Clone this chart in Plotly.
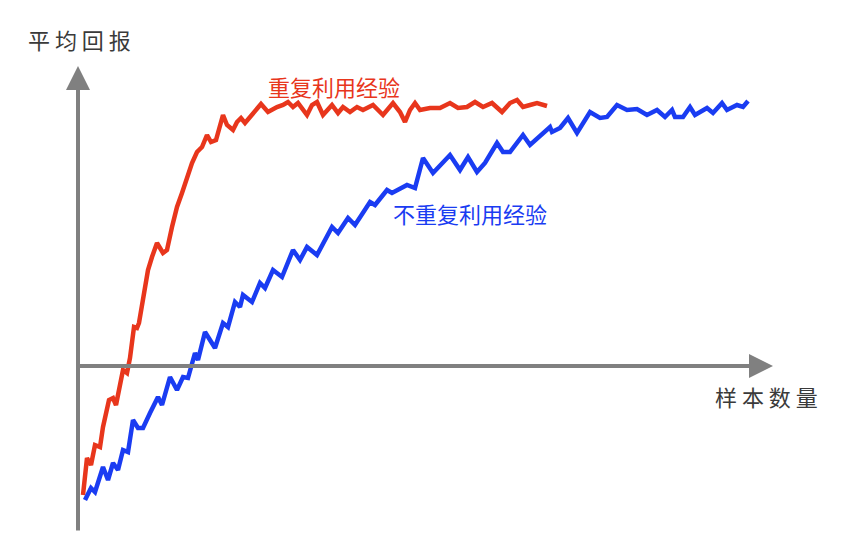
import plotly.graph_objects as go

# sample count vs average return (arbitrary units)
reuse_x = [5, 9, 13, 17, 22, 25, 31, 35, 38, 42, 45, 49, 52, 56, 59, 61, 65, 70, 74, 79,
           85, 89, 94, 99, 104, 109, 114, 119, 124, 129, 133, 138, 145, 149, 155, 159, 163, 167, 174, 183,
           190, 199, 205, 210, 215, 220, 229, 234, 239, 245, 254, 260, 265, 272, 279, 285, 295, 305, 315, 322,
           327, 332, 337, 342, 352, 362, 372, 380, 389, 397, 405, 414, 424, 432, 439, 445, 452, 459, 469]
reuse_y = [-129, -92, -99, -79, -81, -61, -34, -32, -39, -17, -4, -7, 8, 39, 38, 43, 66, 96, 109, 123,
           113, 116, 139, 159, 173, 189, 203, 214, 219, 231, 224, 226, 251, 241, 236, 244, 248, 243, 251, 262,
           254, 259, 261, 264, 259, 263, 251, 261, 264, 251, 261, 253, 259, 254, 259, 256, 261, 251, 263, 254,
           244, 256, 263, 256, 258, 258, 263, 258, 259, 264, 259, 263, 254, 263, 266, 259, 261, 263, 260]

noreuse_x = [7, 13, 17, 25, 30, 35, 40, 45, 50, 55, 60, 65, 72, 80, 84, 92, 99, 105, 110, 117,
             120, 127, 137, 145, 150, 157, 162, 165, 174, 182, 187, 195, 204, 215, 222, 229, 239, 254, 260, 270,
             277, 292, 297, 309, 314, 329, 337, 345, 355, 372, 382, 390, 399, 407, 419, 425, 432, 445, 452, 472,
             474, 482, 490, 499, 512, 522, 529, 539, 549, 559, 569, 579, 587, 594, 597, 605, 612, 617, 629, 635,
             644, 649, 659, 665, 670]
noreuse_y = [-134, -122, -126, -101, -114, -97, -104, -84, -86, -54, -62, -62, -47, -31, -39, -11, -24, -11, -12, 13,
             6, 34, 18, 43, 39, 64, 59, 71, 64, 83, 78, 96, 89, 116, 106, 119, 111, 139, 133, 148,
             141, 164, 161, 176, 173, 181, 178, 208, 193, 211, 196, 209, 194, 203, 223, 214, 214, 231, 221, 239,
             234, 238, 248, 233, 254, 248, 249, 261, 256, 257, 251, 256, 249, 256, 249, 249, 259, 251, 258, 253,
             263, 256, 261, 259, 265]

red = "#e8361c"
blue = "#1a3cf2"
gray = "#808080"
font = "Noto Sans CJK SC"

fig = go.Figure()
fig.add_trace(go.Scatter(x=reuse_x, y=reuse_y, mode="lines",
                         line=dict(color=red, width=4.5), hoverinfo="skip"))
fig.add_trace(go.Scatter(x=noreuse_x, y=noreuse_y, mode="lines",
                         line=dict(color=blue, width=4.5), hoverinfo="skip"))

# hand-drawn style axes with arrows
fig.add_annotation(x=0, y=300, ax=0, ay=-166, xref="x", yref="y", axref="x", ayref="y",
                   showarrow=True, arrowhead=2, arrowsize=1.2, arrowwidth=4, arrowcolor=gray, text="")
fig.add_annotation(x=695, y=0, ax=0, ay=0, xref="x", yref="y", axref="x", ayref="y",
                   showarrow=True, arrowhead=2, arrowsize=1.2, arrowwidth=4, arrowcolor=gray, text="")

fig.add_annotation(x=1, y=327, text="平 均 回 报", showarrow=False,
                   font=dict(family=font, size=22, color="#3a3a3a"))
fig.add_annotation(x=688, y=-30, text="样 本 数 量", showarrow=False,
                   font=dict(family=font, size=22, color="#3a3a3a"))
fig.add_annotation(x=256, y=280, text="重复利用经验", showarrow=False,
                   font=dict(family=font, size=22, color=red))
fig.add_annotation(x=392, y=153, text="不重复利用经验", showarrow=False,
                   font=dict(family=font, size=22, color=blue))

# page body has an 8px margin, so the ranges are offset to compensate
fig.update_xaxes(range=[-70, 783], visible=False)
fig.update_yaxes(range=[-199, 358], visible=False)
fig.update_layout(width=853, height=557, margin=dict(l=0, r=0, t=0, b=0),
                  plot_bgcolor="white", paper_bgcolor="white", showlegend=False)

fig.write_html("out.html")
